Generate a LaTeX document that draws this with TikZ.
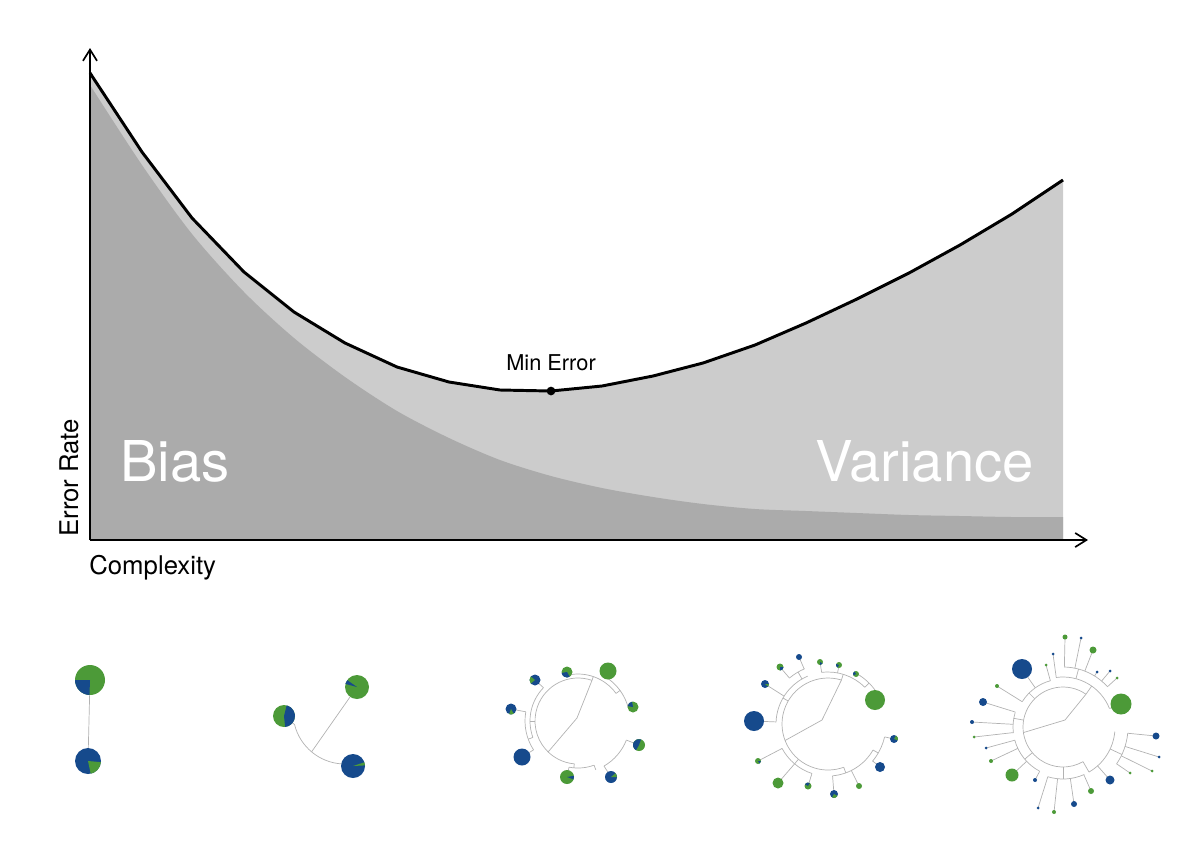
\documentclass[tikz,border=0pt]{standalone}
\usepackage{fontspec}
\setmainfont{TeX Gyre Heros}
\usepackage{tikz}
\usetikzlibrary{arrows.meta,calc,positioning}
\definecolor{leafgreen}{RGB}{76,154,56}
\definecolor{leafblue}{RGB}{22,74,140}
\tikzstyle{varfill}=[fill=black!20]
\tikzstyle{biasfill}=[fill=black!33]
\tikzstyle{axis}=[line width=1.4pt, -{Straight Barb[length=8pt,width=10pt,line width=1.2pt]}]
\tikzstyle{errcurve}=[line width=2.1pt, line join=round]
\tikzstyle{mindot}=[circle, fill=black, inner sep=0pt, minimum size=6.2pt]
\tikzstyle{bigword}=[white, inner sep=0pt, font=\fontsize{40}{40}\selectfont]
\tikzstyle{axlabel}=[inner sep=0pt, font=\fontsize{18.3}{19}\selectfont]
\tikzstyle{branch}=[black!30, line width=0.5pt]
\newcommand{\pieLeaf}[6]{
	\fill[fill=#3] (#1) circle (#2);
	\fill[fill=#4] (#1) -- ++(#5:#2) arc[start angle=#5, end angle=#6, radius=#2] -- cycle;
}
\newcommand{\dotLeaf}[3]{\fill[fill=#3] (#1) circle (#2);}
\newcommand{\clade}[6]{
	\draw[branch] ($(#1)+(#4:#2)$) -- ($(#1)+(#4:#3)$);
	\draw[branch] ($(#1)+(#5:#3)$) arc[start angle=#5, end angle=#6, radius=#3];
}
\newcommand{\twig}[4]{\draw[branch] ($(#1)+(#3:#2)$) -- (#4);}

\begin{document}
\begin{tikzpicture}[x=0.025cm, y=-0.025cm]
	\useasboundingbox (0,0) rectangle (1200,857);
	% error = bias + variance
	\fill[varfill] (90,540) -- plot coordinates {(90,73) (142,152) (192,218) (244,272) (294,312) (345,343) (397,367) (449,382) (500,390) (551,391) (602,386) (653,376) (703,363) (755,345) (806,323) (857,299) (909,273) (960,245) (1012,214) (1063,180)} -- (1063,540) -- cycle;
	\fill[biasfill] (90,540) -- plot[smooth] coordinates {(90,85) (142,165) (192,234) (244,292) (294,338) (345,377) (397,411) (449,438) (500,460) (551,476) (602,488) (653,497) (703,504) (755,509) (806,511) (857,513) (909,515) (960,516) (1012,517) (1063,517)} -- (1063,540) -- cycle;
	\draw[errcurve] plot coordinates {(90,73) (142,152) (192,218) (244,272) (294,312) (345,343) (397,367) (449,382) (500,390) (551,391) (602,386) (653,376) (703,363) (755,345) (806,323) (857,299) (909,273) (960,245) (1012,214) (1063,180)};
	\coordinate (origin) at (90,540);
	\coordinate (ytip) at (90,48);
	\coordinate (xtip) at (1088,540);
	\draw[axis] (origin) -- (ytip);
	\draw[axis] (origin) -- (xtip);
	\node[mindot] (minerr) at (551,391) {};
	\node[inner sep=0pt, font=\fontsize{15.5}{16}\selectfont, above=10.5pt of minerr] (mintext) {Min Error};
	\node[bigword, anchor=base west] (bias) at (120,481) {Bias};
	\node[bigword, anchor=base east] (variance) at (1034,481) {Variance};
	\node[axlabel, anchor=base west] (xlabel) at (89,574) {Complexity};
	\node[axlabel, anchor=base west, rotate=90] (ylabel) at (78,537) {Error Rate};

	% tree 1
	\coordinate (t1a) at (90,680);
	\coordinate (t1b) at (88,761);
	\draw[branch] (t1a) -- (t1b);
	\pieLeaf{t1a}{15}{leafgreen}{leafblue}{92}{180}
	\pieLeaf{t1b}{13}{leafblue}{leafgreen}{5}{78}

	% tree 2
	\coordinate (c2) at (345,712);
	\coordinate (t2a) at (284,716);
	\coordinate (t2b) at (357,687);
	\coordinate (t2c) at (353,766);
	\draw[branch] (t2a) -- ($(c2)+(166:52)$) arc[start angle=166, end angle=93, radius=52] -- (t2c);
	\draw[branch] ($(c2)+(130:52)$) -- (t2b);
	\pieLeaf{t2a}{11}{leafgreen}{leafblue}{-76}{84}
	\pieLeaf{t2b}{12}{leafgreen}{leafblue}{-165}{-145}
	\pieLeaf{t2c}{12}{leafblue}{leafgreen}{-18}{-3}

	% tree 3
	\coordinate (c3) at (578,721);
	\coordinate (t3a) at (535,680);
	\coordinate (t3b) at (567,672);
	\coordinate (t3c) at (608,671);
	\coordinate (t3d) at (633,707);
	\coordinate (t3e) at (511,709);
	\coordinate (t3f) at (522,757);
	\coordinate (t3g) at (639,745);
	\coordinate (t3h) at (567,777);
	\coordinate (t3i) at (611,777);
	\draw[branch] ($(c3)+(-71:43)$) arc[start angle=-71, end angle=-265, radius=43];
	\draw[branch] ($(c3)+(-71:43)$) -- ($(c3)+(-1,-3)$) -- ($(c3)+(134:43)$);
	\clade{c3}{43}{47}{-71}{-103}{-36}
	\clade{c3}{47}{52}{-36}{-59}{-14}
	\clade{c3}{43}{48}{-180}{-136}{-200}
	\clade{c3}{48}{53}{-200}{-170}{-213}
	\clade{c3}{43}{47}{95}{101}{70}
	\clade{c3}{47}{52}{70}{60}{21.5}
	\twig{c3}{47}{-103}{t3b}
	\twig{c3}{52}{-59}{t3c}
	\twig{c3}{52}{-14}{t3d}
	\twig{c3}{48}{-136}{t3a}
	\twig{c3}{53}{-170}{t3e}
	\twig{c3}{53}{-213}{t3f}
	\twig{c3}{47}{101}{t3h}
	\twig{c3}{52}{60}{t3i}
	\twig{c3}{52}{21.5}{t3g}
	\pieLeaf{t3a}{5.5}{leafblue}{leafgreen}{140}{220}
	\pieLeaf{t3b}{5.5}{leafgreen}{leafblue}{60}{170}
	\dotLeaf{t3c}{8.5}{leafgreen}
	\pieLeaf{t3d}{5.5}{leafgreen}{leafblue}{-170}{-100}
	\pieLeaf{t3e}{5.5}{leafblue}{leafgreen}{60}{110}
	\dotLeaf{t3f}{8.5}{leafblue}
	\pieLeaf{t3g}{6}{leafgreen}{leafblue}{120}{290}
	\pieLeaf{t3h}{7}{leafgreen}{leafblue}{-10}{20}
	\pieLeaf{t3i}{6}{leafblue}{leafgreen}{-40}{0}

	% tree 4
	\coordinate (c4) at (828,724);
	\coordinate (t4a) at (799,657);
	\coordinate (t4b) at (780,667);
	\coordinate (t4c) at (820,662);
	\coordinate (t4d) at (839,665);
	\coordinate (t4e) at (856,674);
	\coordinate (t4f) at (875,700);
	\coordinate (t4g) at (765,684);
	\coordinate (t4h) at (754,721);
	\coordinate (t4i) at (894,739);
	\coordinate (t4j) at (880,767);
	\coordinate (t4k) at (758,761);
	\coordinate (t4l) at (778,783);
	\coordinate (t4m) at (808,786);
	\coordinate (t4n) at (834,794);
	\coordinate (t4o) at (859,786);
	\draw[branch] ($(c4)+(-73:46)$) arc[start angle=-73, end angle=-290, radius=46];
	\draw[branch] ($(c4)+(-73:46)$) -- ($(c4)+(-6,-4)$) -- ($(c4)+(159:46)$);
	\clade{c4}{46}{52}{-73}{-97}{-45}
	\clade{c4}{52}{58}{-45}{-61}{-27}
	\clade{c4}{46}{52}{-150}{-113}{-178}
	\clade{c4}{52}{60}{-120}{-113}{-130}
	\clade{c4}{46}{52}{130}{152}{108}
	\clade{c4}{46}{52}{70}{85}{30}
	\clade{c4}{52}{58}{30}{40}{13}
	\foreach \ang/\lf in {-97/t4c, -79.4/t4d, -147.6/t4g, -177.7/t4h, 152/t4k, 130/t4l, 108/t4m, 85/t4n, 63.4/t4o}
		{\twig{c4}{52}{\ang}{\lf}}
	\foreach \ang/\lf in {-60.8/t4e, -27/t4f, 12.8/t4i, 39.6/t4j}
		{\twig{c4}{58}{\ang}{\lf}}
	\foreach \ang/\lf in {-113.4/t4a, -130/t4b}
		{\twig{c4}{60}{\ang}{\lf}}
	\dotLeaf{t4a}{3}{leafblue}
	\pieLeaf{t4b}{3.5}{leafgreen}{leafblue}{0}{90}
	\pieLeaf{t4c}{3}{leafgreen}{leafblue}{30}{90}
	\pieLeaf{t4d}{3}{leafgreen}{leafblue}{120}{200}
	\pieLeaf{t4e}{3}{leafgreen}{leafblue}{150}{240}
	\dotLeaf{t4f}{10}{leafgreen}
	\pieLeaf{t4g}{4}{leafblue}{leafgreen}{0}{40}
	\dotLeaf{t4h}{10}{leafblue}
	\pieLeaf{t4i}{4}{leafblue}{leafgreen}{-60}{20}
	\dotLeaf{t4j}{5}{leafblue}
	\pieLeaf{t4k}{3}{leafgreen}{leafblue}{0}{60}
	\dotLeaf{t4l}{5.5}{leafgreen}
	\pieLeaf{t4m}{3.5}{leafgreen}{leafblue}{-150}{-60}
	\pieLeaf{t4n}{4}{leafblue}{leafgreen}{30}{120}
	\dotLeaf{t4o}{3}{leafgreen}

	% tree 5
	\coordinate (c5) at (1063,727);
	\coordinate (t5a) at (1065,637);
	\coordinate (t5b) at (1081,638);
	\coordinate (t5c) at (1093,650);
	\coordinate (t5d) at (1053,654);
	\coordinate (t5e) at (1022,669);
	\coordinate (t5f) at (1046,665);
	\coordinate (t5g) at (1097,672);
	\coordinate (t5h) at (1110,671);
	\coordinate (t5i) at (1117,678);
	\coordinate (t5j) at (1121,704);
	\coordinate (t5k) at (997,686);
	\coordinate (t5l) at (983,702);
	\coordinate (t5m) at (972,722);
	\coordinate (t5n) at (974,737);
	\coordinate (t5o) at (1156,736);
	\coordinate (t5p) at (1159,757);
	\coordinate (t5q) at (1130,773);
	\coordinate (t5r) at (1152,771);
	\coordinate (t5s) at (986,748);
	\coordinate (t5t) at (991,761);
	\coordinate (t5u) at (1012,775);
	\coordinate (t5v) at (1035,780);
	\coordinate (t5w) at (1110,780);
	\coordinate (t5x) at (1091,791);
	\coordinate (t5y) at (1074,804);
	\coordinate (t5z) at (1054,812);
	\coordinate (t5aa) at (1038,808);
	\draw[branch] ($(c5)+(-55:40)$) arc[start angle=-55, end angle=-300, radius=40];
	\draw[branch] ($(c5)+(-55:40)$) -- ($(c5)+(2,-7)$) -- ($(c5)+(172:40)$);
	\clade{c5}{40}{50}{-55}{-98}{-22}
	\clade{c5}{50}{60}{-75}{-89}{-42}
	\clade{c5}{40}{48}{-135}{-105}{-148}
	\clade{c5}{40}{50}{-170}{-163}{-187}
	\clade{c5}{40}{50}{140}{165}{118}
	\clade{c5}{40}{52}{90}{107}{66}
	\clade{c5}{40}{52}{60}{60}{5}
	\clade{c5}{52}{65}{25}{34.5}{5.5}
	\foreach \ang/\lf in {-97.8/t5d, -21.6/t5j, -162.6/t5l, -176.9/t5m, -186.4/t5n, 164.7/t5s, 154.7/t5t, 136.7/t5u, 117.8/t5v}
		{\twig{c5}{50}{\ang}{\lf}}
	\foreach \ang/\lf in {-88.7/t5a, -78.6/t5b, -68.7/t5c, -58.3/t5g, -50/t5h, -42.2/t5i}
		{\twig{c5}{60}{\ang}{\lf}}
	\foreach \ang/\lf in {-105.3/t5f, -125.3/t5e, -148.2/t5k}
		{\twig{c5}{48}{\ang}{\lf}}
	\foreach \ang/\lf in {107/t5aa, 96/t5z, 81.9/t5y, 66.4/t5x, 48.4/t5w}
		{\twig{c5}{52}{\ang}{\lf}}
	\foreach \ang/\lf in {34.5/t5q, 26.3/t5r, 17.4/t5p, 5.5/t5o}
		{\twig{c5}{65}{\ang}{\lf}}
	\foreach \lf/\rr/\col in {t5a/2.5/leafgreen, t5b/1.5/leafblue, t5c/3.5/leafgreen, t5d/1.5/leafblue, t5e/10/leafblue, t5f/1.5/leafgreen, t5g/1.5/leafblue, t5h/1.5/leafblue, t5i/1.5/leafgreen, t5j/10.5/leafgreen, t5k/2/leafgreen, t5l/4/leafblue, t5m/2/leafblue, t5n/1.5/leafgreen, t5o/3.5/leafblue, t5p/1.5/leafblue, t5q/1.5/leafgreen, t5r/1.5/leafgreen, t5s/1.5/leafblue, t5t/2/leafgreen, t5u/6.5/leafgreen, t5v/2/leafblue, t5w/4.5/leafblue, t5x/3/leafgreen, t5y/3/leafblue, t5z/2/leafgreen, t5aa/1.5/leafblue}
		{\dotLeaf{\lf}{\rr}{\col}}
\end{tikzpicture}
\end{document}
